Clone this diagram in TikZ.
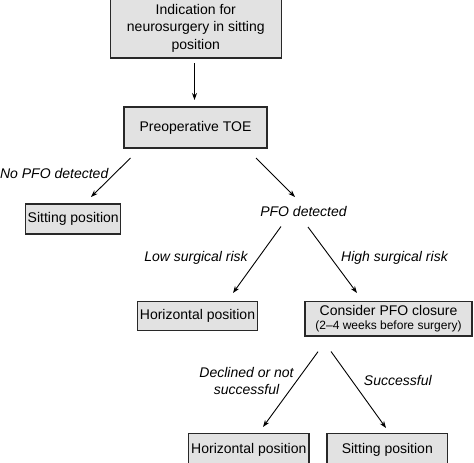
\documentclass[tikz,border=0pt]{standalone}
\usepackage{fontspec}
\setmainfont{Liberation Sans}
\usetikzlibrary{arrows.meta}
\definecolor{boxfill}{RGB}{226,226,226}
\definecolor{boxline}{RGB}{40,40,40}
\tikzset{
  x=1pt, y=-1pt,
  box/.style={draw=boxline, fill=boxfill, line width=1.1pt, inner sep=0pt, align=center,
    font=\fontsize{14}{17.5}\selectfont},
  lbl/.style={inner sep=0pt, align=center, font=\fontsize{14}{17}\selectfont\itshape},
  arr/.style={line width=0.9pt, -{Stealth[length=7pt,width=5pt]}}
}
\begin{document}
\begin{tikzpicture}
\useasboundingbox (0,0) rectangle (474,463);
\begin{scope}
\clip (0,0) rectangle (474,463);
\node[box, minimum width=171.5pt, minimum height=60pt] (top) at (195.8,28) {Indication for\\neurosurgery in sitting\\position};
\node[box, minimum width=143pt, minimum height=41pt] (toe) at (195.5,127.5) {Preoperative TOE};
\node[box, minimum width=95pt, minimum height=30pt] (sit1) at (73.2,219) {Sitting position};
\node[lbl] (pfo) at (303.5,211) {PFO detected};
\node[box, minimum width=120.4pt, minimum height=28.3pt] (hor1) at (197.5,316) {Horizontal position};
\node[box, minimum width=167pt, minimum height=34.3pt] (clo) at (388.5,318.8) {Consider PFO closure\\[-3pt]{\fontsize{12}{14}\selectfont (2--4 weeks before surgery)}};
\node[box, minimum width=120.3pt, minimum height=33pt] (hor2) at (248.8,450) {Horizontal position};
\node[box, minimum width=120.7pt, minimum height=33pt] (sit2) at (387.3,450) {Sitting position};
\end{scope}

\node[lbl, anchor=east] (lnopfo) at (108.5,173) {No PFO detected};
\node[lbl] (llow) at (196,258) {Low surgical risk};
\node[lbl] (lhigh) at (394.5,258) {High surgical risk};
\node[lbl] (ldecl) at (246.5,380.5) {Declined or not\\successful};
\node[lbl] (lsucc) at (397.8,380) {Successful};

\coordinate (a1s) at (194.5,63);  \coordinate (a1e) at (194.5,100);
\coordinate (a2s) at (130.5,158); \coordinate (a2e) at (91,197);
\coordinate (a3s) at (256,158);   \coordinate (a3e) at (295,197);
\coordinate (a4s) at (281,226.5); \coordinate (a4e) at (233,293);
\coordinate (a5s) at (308,227);   \coordinate (a5e) at (357,293);
\coordinate (a6s) at (318,351.7); \coordinate (a6e) at (263,427);
\coordinate (a7s) at (331,351.5); \coordinate (a7e) at (386,428);

\draw[arr] (a1s) -- (a1e);
\draw[arr] (a2s) -- (a2e);
\draw[arr] (a3s) -- (a3e);
\draw[arr] (a4s) -- (a4e);
\draw[arr] (a5s) -- (a5e);
\draw[arr] (a6s) -- (a6e);
\draw[arr] (a7s) -- (a7e);
\end{tikzpicture}
\end{document}
